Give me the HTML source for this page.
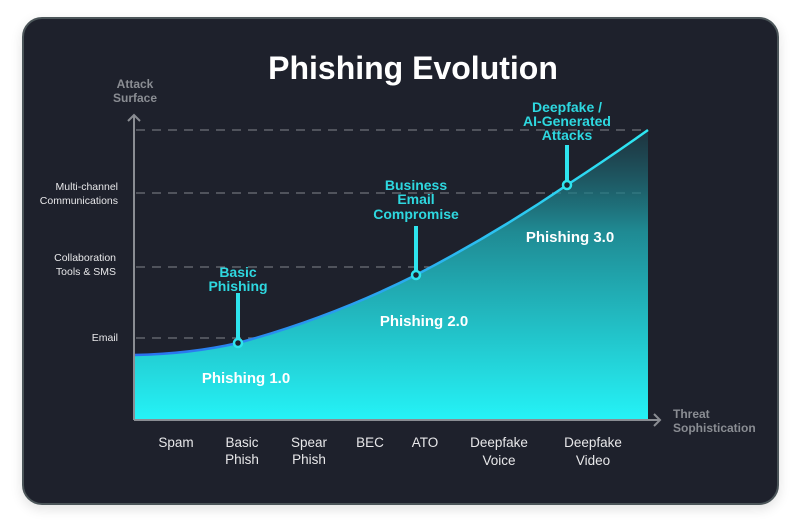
<!DOCTYPE html>
<html><head><meta charset="utf-8"><style>
html,body{margin:0;padding:0;background:#fff;width:800px;height:530px;overflow:hidden}
.card{position:absolute;left:22px;top:17px;width:753px;height:484px;background:#1e212c;border:2px solid #4b5559;border-radius:20px;box-shadow:0 4px 12px rgba(0,0,0,0.12)}
svg{position:absolute;left:0;top:0}
text{font-family:"Liberation Sans",sans-serif}
</style></head><body>
<div class="card"></div>
<svg width="800" height="530" viewBox="0 0 800 530">
<defs>
<linearGradient id="fill" x1="0" y1="130" x2="0" y2="420" gradientUnits="userSpaceOnUse">
<stop offset="0" stop-color="#1e6a76" stop-opacity="0.25"/>
<stop offset="0.35" stop-color="#1f8a93"/>
<stop offset="1" stop-color="#25f3f7"/>
</linearGradient>
<linearGradient id="ln" x1="134" y1="0" x2="648" y2="0" gradientUnits="userSpaceOnUse">
<stop offset="0" stop-color="#2a6ff0"/>
<stop offset="0.5" stop-color="#2aa8f0"/>
<stop offset="1" stop-color="#2ee8f2"/>
</linearGradient>
</defs>
<text x="413" y="79" text-anchor="middle" font-size="32" font-weight="bold" fill="#fff">Phishing Evolution</text>
<g stroke="#6e727a" stroke-width="1.3" stroke-dasharray="9,7">
<line x1="136" y1="130" x2="648" y2="130"/>
<line x1="136" y1="193" x2="648" y2="193"/>
<line x1="136" y1="267" x2="648" y2="267"/>
<line x1="136" y1="338" x2="648" y2="338"/>
</g>
<path d="M134,355 Q190,354 238,343 Q330,318 416,275 Q495,234 567,185 Q610,157 648,130 L648,420 L134,420 Z" fill="url(#fill)"/>
<path d="M134,355 Q190,354 238,343 Q330,318 416,275 Q495,234 567,185 Q610,157 648,130" fill="none" stroke="url(#ln)" stroke-width="2.5"/>
<g stroke="#8a8d93" stroke-width="2" fill="none">
<line x1="134" y1="420" x2="134" y2="115"/>
<polyline points="128,121 134,115 140,121"/>
<line x1="134" y1="420" x2="660" y2="420"/>
<polyline points="654,414 660,420 654,426"/>
</g>
<g stroke="#2ee4ee" stroke-width="4">
<line x1="238" y1="293" x2="238" y2="340"/>
<line x1="416" y1="226" x2="416" y2="272"/>
<line x1="567" y1="145" x2="567" y2="182"/>
</g>
<g fill="#1e212c" stroke="#2ee4ee" stroke-width="2.5">
<circle cx="238" cy="343" r="4"/><circle cx="416" cy="275" r="4"/><circle cx="567" cy="185" r="4"/>
</g>
<g font-weight="bold" font-size="14" fill="#2ed8e0" text-anchor="middle">
<text x="238" y="277">Basic</text><text x="238" y="291">Phishing</text>
<text x="416" y="190">Business</text><text x="416" y="204">Email</text><text x="416" y="219">Compromise</text>
<text x="567" y="112">Deepfake /</text><text x="567" y="126">AI-Generated</text><text x="567" y="140">Attacks</text>
</g>
<g font-weight="bold" font-size="15" fill="#fff" text-anchor="middle">
<text x="246" y="383">Phishing 1.0</text>
<text x="424" y="326">Phishing 2.0</text>
<text x="570" y="242">Phishing 3.0</text>
</g>
<g font-weight="bold" font-size="12" fill="#8a8d93">
<text x="135" y="88" text-anchor="middle">Attack</text><text x="135" y="102" text-anchor="middle">Surface</text>
<text x="673" y="418">Threat</text><text x="673" y="432">Sophistication</text>
</g>
<g font-size="10.5" fill="#e8e8ea" text-anchor="end">
<text x="118" y="190">Multi-channel</text><text x="118" y="204">Communications</text>
<text x="116" y="261">Collaboration</text><text x="116" y="275">Tools &amp; SMS</text>
<text x="118" y="341">Email</text>
</g>
<g font-size="13.5" fill="#e8e8ea" text-anchor="middle">
<text x="176" y="447">Spam</text>
<text x="242" y="447">Basic</text><text x="242" y="464">Phish</text>
<text x="309" y="447">Spear</text><text x="309" y="464">Phish</text>
<text x="370" y="447">BEC</text>
<text x="425" y="447">ATO</text>
<text x="499" y="447">Deepfake</text><text x="499" y="465">Voice</text>
<text x="593" y="447">Deepfake</text><text x="593" y="465">Video</text>
</g>
</svg>
</body></html>
